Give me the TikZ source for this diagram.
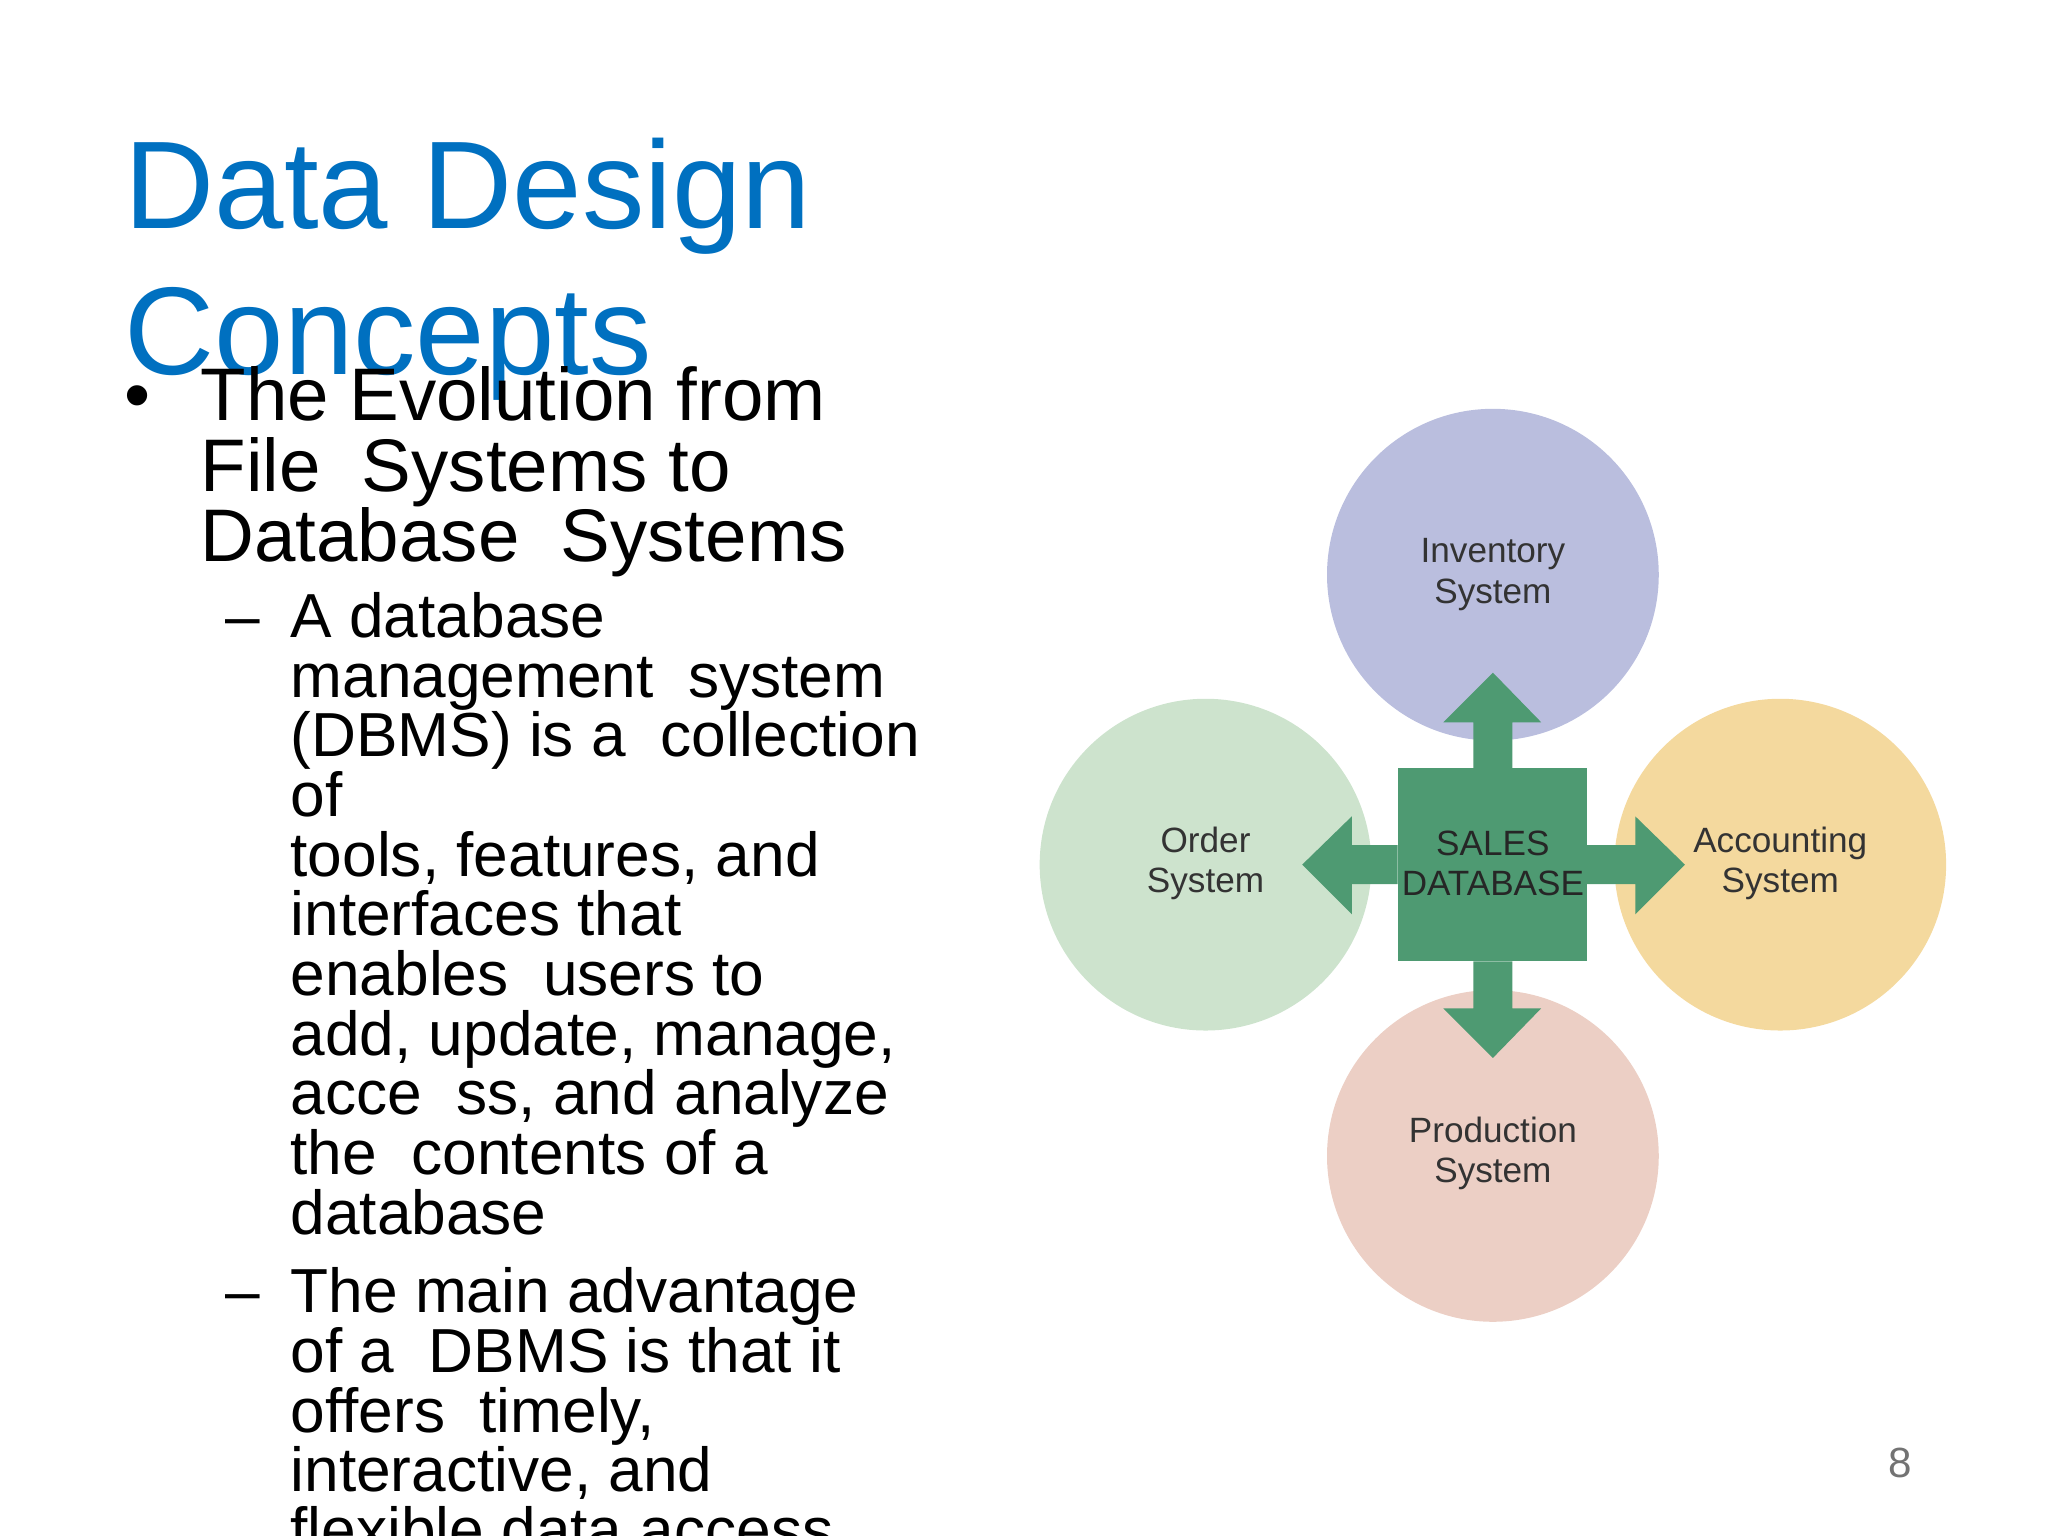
\documentclass[tikz,border=0pt]{standalone}
\usepackage{fontspec}
\setmainfont{Liberation Sans}
\begin{document}
\begin{tikzpicture}[x=0.013061cm,y=-0.013061cm,
  title/.style={anchor=base west,font=\fontsize{35.5}{36}\selectfont,inner sep=0},
  l1/.style={anchor=base west,font=\fontsize{21.2}{22}\selectfont,inner sep=0},
  l2/.style={anchor=base west,font=\fontsize{17.7}{18}\selectfont,inner sep=0},
  circ/.style={circle,inner sep=0,font=\fontsize{10}{11.5}\selectfont,align=center,text=black!80}]
\useasboundingbox (0,0) rectangle (1568,1176);
\clip (0,0) rectangle (1568,1176);
\definecolor{tb}{HTML}{0070C0}
\tikzset{title/.append style={text=tb}}
\node[title] (t1) at (95,175) {Data Design};
\node[title] (t2) at (95,287) {Concepts};
\node[l1] (b) at (95,322) {•};
\foreach \t [count=\i] in {The Evolution from,File\ \ Systems to,Database\ \ Systems}
  \node[l1] (m\i) at (153,322+54*\i-54) {\t};
\node[l2] (d1) at (172,488) {–};
\foreach \t [count=\i] in {A database,management\ \ system,(DBMS) is a\ \ collection,of,{tools, features, and},interfaces that,enables\ \ users to,{add, update, manage,},{acce\ \ ss, and analyze},the\ \ contents of a,database}
  \node[l2] (s\i) at (222,488+45.7*\i-45.7) {\t};
\node[l2] (d2) at (172,1005) {–};
\foreach \t [count=\i] in {The main advantage,of a\ \ DBMS is that it,{offers\ \ timely,},{interactive, and},flexible data access}
  \node[l2] (r\i) at (222,1005+45.7*\i-45.7) {\t};
\node[font=\fontsize{12}{12}\selectfont,text=black!55] (pg) at (1455,1120) {8};
\definecolor{ci}{HTML}{BABEDE}
\definecolor{co}{HTML}{CDE3CD}
\definecolor{ca}{HTML}{F4D99E}
\definecolor{cp}{HTML}{ECCFC5}
\fill[ci] (1143,440) circle (127);
\fill[co] (923,662) circle (127);
\fill[ca] (1363,662) circle (127);
\fill[cp] (1143,885) circle (127);
\definecolor{dg}{HTML}{4E9A72}
\fill[dg] (1070,588) rectangle (1215,736);
\fill[dg] (1128,588) -- (1128,553) -- (1105,553) -- (1143,515) -- (1180,553) -- (1158,553) -- (1158,588) -- cycle;
\fill[dg] (1128,736) -- (1128,772) -- (1105,772) -- (1143,810) -- (1180,772) -- (1158,772) -- (1158,736) -- cycle;
\fill[dg] (1070,647) -- (1035,647) -- (1035,625) -- (997,662) -- (1035,700) -- (1035,677) -- (1070,677) -- cycle;
\fill[dg] (1215,647) -- (1252,647) -- (1252,625) -- (1290,662) -- (1252,700) -- (1252,677) -- (1215,677) -- cycle;
\node[circ] (inv) at (1143,440) {Inventory\\System};
\node[circ] (ord) at (923,661) {Order\\System};
\node[circ] (acc) at (1363,661) {Accounting\\System};
\node[circ] (pro) at (1143,883) {Production\\System};
\node[circ,text=black!85] (db) at (1143,661) {SALES\\DATABASE};
\end{tikzpicture}
\end{document}
